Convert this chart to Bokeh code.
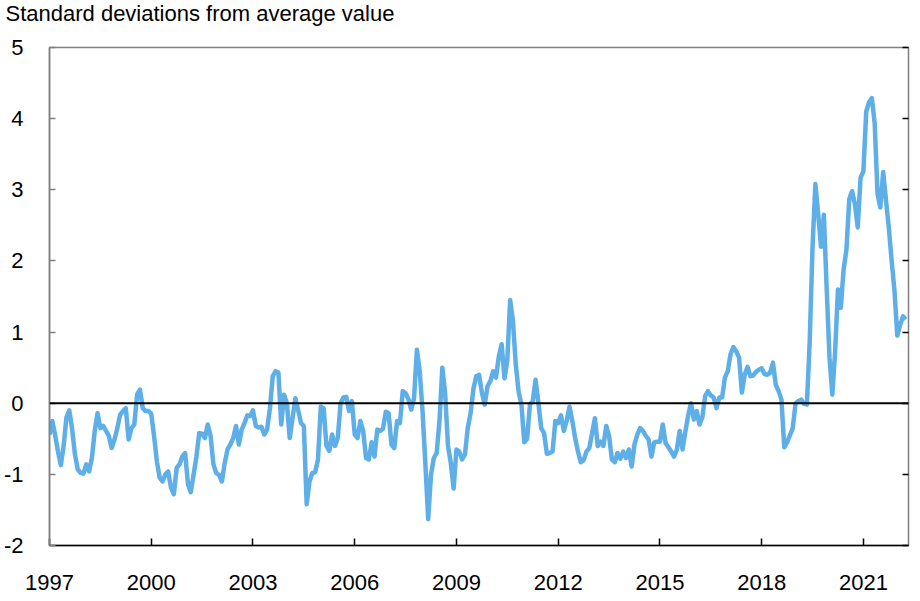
from bokeh.plotting import figure
from bokeh.models import Range1d, FixedTicker, LinearAxis, Span
from bokeh.embed import file_html
from bokeh.resources import INLINE

# Monthly index values, January 1997 onwards
start_year = 1997
index_values = [
    -0.44, -0.25, -0.45, -0.68, -0.87, -0.60, -0.20, -0.10, -0.36, -0.72, -0.93, -0.98,
    -0.99, -0.86, -0.96, -0.77, -0.39, -0.14, -0.35, -0.32, -0.39, -0.46, -0.63, -0.51,
    -0.35, -0.16, -0.11, -0.07, -0.51, -0.35, -0.30, 0.12, 0.19, -0.07, -0.11, -0.11,
    -0.15, -0.46, -0.82, -1.05, -1.10, -1.00, -0.96, -1.19, -1.28, -0.91, -0.86, -0.75,
    -0.70, -1.14, -1.25, -1.00, -0.75, -0.42, -0.43, -0.49, -0.30, -0.46, -0.86, -0.98,
    -1.01, -1.10, -0.84, -0.65, -0.58, -0.49, -0.32, -0.58, -0.37, -0.28, -0.17, -0.18,
    -0.10, -0.32, -0.34, -0.33, -0.44, -0.37, -0.07, 0.38, 0.45, 0.43, -0.30, 0.12,
    0.00, -0.49, -0.21, 0.07, -0.10, -0.28, -0.32, -1.42, -1.10, -0.98, -0.97, -0.79,
    -0.05, -0.07, -0.60, -0.67, -0.44, -0.60, -0.49, 0.00, 0.08, 0.09, -0.11, 0.03,
    -0.44, -0.49, -0.25, -0.39, -0.77, -0.79, -0.55, -0.75, -0.37, -0.39, -0.36, -0.12,
    -0.14, -0.58, -0.63, -0.25, -0.28, 0.17, 0.14, 0.06, -0.09, 0.07, 0.75, 0.45,
    -0.11, -0.85, -1.63, -1.00, -0.77, -0.70, -0.25, 0.50, 0.14, -0.60, -0.84, -1.20,
    -0.65, -0.68, -0.79, -0.72, -0.35, -0.14, 0.20, 0.38, 0.40, 0.15, -0.02, 0.24,
    0.31, 0.45, 0.36, 0.66, 0.83, 0.35, 0.61, 1.45, 1.15, 0.54, 0.16, -0.02,
    -0.55, -0.50, -0.02, 0.03, 0.33, 0.00, -0.35, -0.42, -0.71, -0.70, -0.68, -0.25,
    -0.28, -0.17, -0.39, -0.25, -0.05, -0.25, -0.49, -0.68, -0.83, -0.80, -0.68, -0.63,
    -0.42, -0.21, -0.60, -0.54, -0.60, -0.32, -0.46, -0.79, -0.83, -0.70, -0.78, -0.68,
    -0.77, -0.65, -0.89, -0.58, -0.44, -0.35, -0.39, -0.46, -0.51, -0.75, -0.55, -0.54,
    -0.54, -0.30, -0.56, -0.62, -0.68, -0.75, -0.65, -0.39, -0.65, -0.40, -0.17, 0.00,
    -0.23, -0.11, -0.30, -0.20, 0.10, 0.17, 0.11, 0.08, -0.07, 0.08, 0.08, 0.36,
    0.45, 0.69, 0.79, 0.73, 0.64, 0.15, 0.40, 0.51, 0.38, 0.39, 0.44, 0.47,
    0.49, 0.41, 0.40, 0.43, 0.57, 0.26, 0.17, 0.05, -0.62, -0.55, -0.45, -0.35,
    0.00, 0.03, 0.05, -0.01, -0.02, 0.87, 2.19, 3.08, 2.66, 2.20, 2.65, 1.62,
    0.64, 0.12, 0.73, 1.60, 1.34, 1.88, 2.16, 2.87, 2.98, 2.80, 2.47, 3.17,
    3.26, 4.10, 4.23, 4.29, 3.93, 2.94, 2.75, 3.25, 2.85, 2.47, 2.00, 1.58,
    0.95, 1.10, 1.22, 1.18,
]
year_ticks = [1997, 2000, 2003, 2006, 2009, 2012, 2015, 2018, 2021]
value_ticks = [-2, -1, 0, 1, 2, 3, 4, 5]
title_text = "Standard deviations from average value"

months = [start_year + i / 12 for i in range(len(index_values))]

FONT = "Liberation Sans"
GREY = "#808080"

# a blank second line gives the title box the full height above the frame,
# so the text itself sits at the very top of the page
p = figure(
    width=910, height=600,
    x_range=Range1d(1997, 2022.33), y_range=Range1d(-2, 5),
    title=title_text + "\n ",
    min_border_left=41, min_border_right=2, min_border_top=47, min_border_bottom=55,
    output_backend="svg", toolbar_location=None,
)
p.xgrid.visible = False
p.ygrid.visible = False
p.outline_line_color = GREY
p.outline_line_width = 1.5

p.title.text_font = FONT
p.title.text_font_size = "22px"
p.title.text_font_style = "normal"
p.title.text_color = "black"
p.title.text_line_height = 0.8
p.title.align = "left"
p.title.vertical_align = "top"
p.title.offset = -44
p.title.standoff = 0

# left axis
p.yaxis.ticker = FixedTicker(ticks=value_ticks)
p.yaxis.major_label_overrides = {t: str(t) for t in value_ticks}
p.yaxis.axis_line_color = GREY
p.yaxis.axis_line_width = 1.5
p.yaxis.major_tick_line_color = GREY
p.yaxis.major_tick_line_width = 1.5
p.yaxis.major_tick_in = 6
p.yaxis.major_tick_out = 0
p.yaxis.minor_tick_line_color = None
p.yaxis.major_label_standoff = 26
p.yaxis.major_label_text_font = FONT
p.yaxis.major_label_text_font_size = "22px"
p.yaxis.major_label_text_color = "black"

# bottom axis
p.xaxis.ticker = FixedTicker(ticks=year_ticks)
p.xaxis.major_label_overrides = {t: str(t) for t in year_ticks}
p.xaxis.axis_line_color = "black"
p.xaxis.axis_line_width = 1.5
p.xaxis.major_tick_line_color = "black"
p.xaxis.major_tick_line_width = 1.5
p.xaxis.major_tick_in = 7
p.xaxis.major_tick_out = 0
p.xaxis.minor_tick_line_color = None
p.xaxis.major_label_standoff = 29
p.xaxis.major_label_text_font = FONT
p.xaxis.major_label_text_font_size = "22px"
p.xaxis.major_label_text_color = "black"

# right axis: inward ticks only
right = LinearAxis(
    ticker=FixedTicker(ticks=value_ticks),
    major_label_overrides={t: "" for t in value_ticks},
    axis_line_color=None,
    major_tick_line_color="black",
    major_tick_line_width=1.5,
    major_tick_in=6,
    major_tick_out=0,
    minor_tick_line_color=None,
    major_label_standoff=0,
    major_label_text_font_size="0px",
)
p.add_layout(right, "right")

p.add_layout(Span(location=0, dimension="width", line_color="black", line_width=2))

p.line(months, index_values, line_color="#5eaee8", line_width=4.5, line_join="round")

open("out.html", "w").write(file_html(p, INLINE))
